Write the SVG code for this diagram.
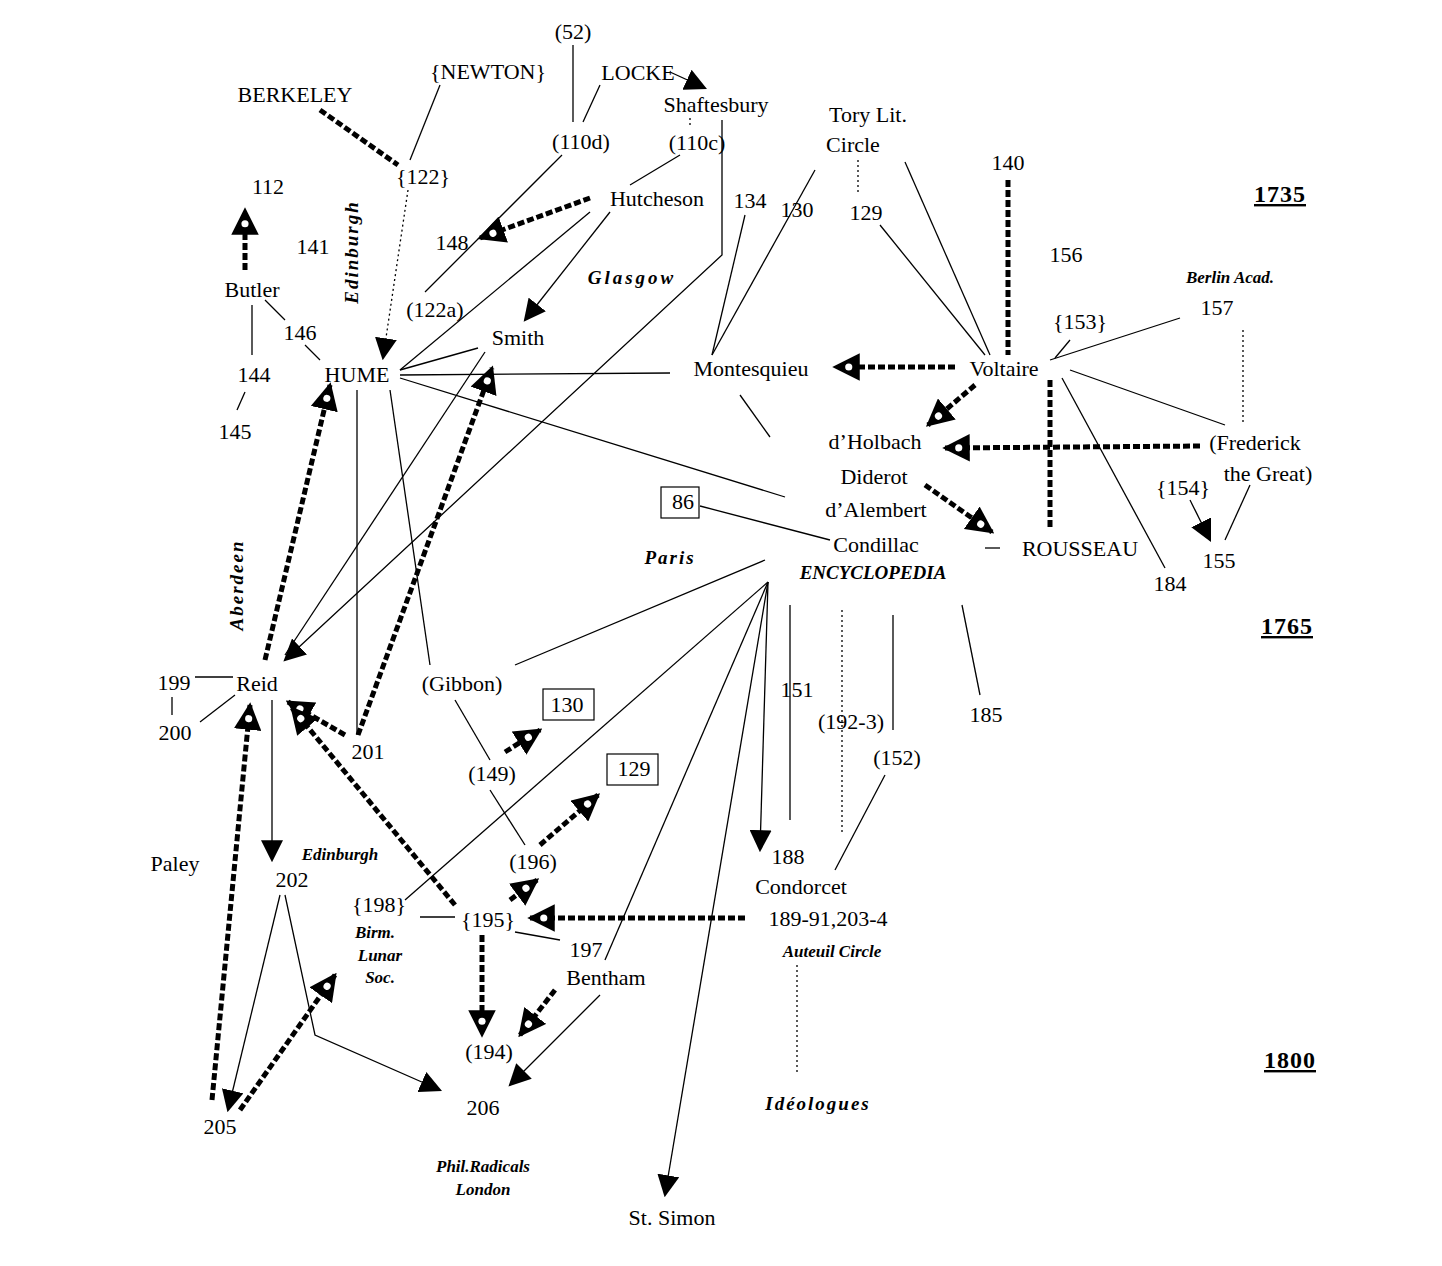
<svg xmlns="http://www.w3.org/2000/svg" width="1442" height="1266" viewBox="0 0 1442 1266">
<defs>
<marker id="a" viewBox="0 0 10 10" refX="9" refY="5" markerWidth="12" markerHeight="12" markerUnits="userSpaceOnUse" orient="auto"><path d="M0,0L10,5L0,10z" fill="#000"/></marker>
<marker id="a2" viewBox="0 0 10 10" refX="9" refY="5" markerWidth="22" markerHeight="22" markerUnits="userSpaceOnUse" orient="auto"><path d="M0,0L10,5L0,10z" fill="#000"/></marker>
<marker id="h" viewBox="0 0 10 10" refX="9" refY="5" markerWidth="5.5" markerHeight="5.5" orient="auto"><path d="M0,0L10,5L0,10z" fill="#000"/><circle cx="4" cy="5" r="1.3" fill="#fff"/></marker>
</defs>
<style>
text{font-family:"Liberation Serif",serif;font-size:22px;fill:#000;text-anchor:middle}
.bi{font-weight:bold;font-style:italic;font-size:19px}
.sm{font-size:17px}
.yr{font-weight:bold;font-size:24px;text-decoration:underline;letter-spacing:1px}
.t{stroke:#000;stroke-width:1.3;fill:none}
.d{stroke:#000;stroke-width:1.3;fill:none;stroke-dasharray:2 3}
.k{stroke:#000;stroke-width:5;fill:none;stroke-dasharray:7 3;marker-end:url(#h)}
.kn{stroke:#000;stroke-width:5;fill:none;stroke-dasharray:7 3}
</style>
<rect width="1442" height="1266" fill="#fff"/>
<g id="connectors">
<line class="t" x1="573" y1="45" x2="573" y2="122"/>
<line class="t" x1="600" y1="85" x2="583" y2="122"/>
<line class="t" x1="670" y1="72" x2="705" y2="88" marker-end="url(#a2)"/>
<line class="d" x1="690" y1="118" x2="690" y2="128"/>
<line class="t" x1="440" y1="85" x2="410" y2="160"/>
<line class="d" x1="408" y1="190" x2="383" y2="358" marker-end="url(#a2)"/>
<line class="kn" x1="320" y1="110" x2="398" y2="165"/>
<line class="t" x1="562" y1="155" x2="425" y2="292"/>
<line class="t" x1="680" y1="155" x2="630" y2="185"/>
<line class="t" x1="610" y1="212" x2="525" y2="320" marker-end="url(#a2)"/>
<line class="t" x1="590" y1="212" x2="400" y2="370"/>
<polyline class="t" points="722,120 722,255 285,660" marker-end="url(#a2)"/>
<line class="t" x1="485" y1="352" x2="285" y2="655"/>
<line class="k" x1="590" y1="198" x2="480" y2="238"/>
<line class="t" x1="745" y1="215" x2="712" y2="355"/>
<line class="t" x1="815" y1="170" x2="712" y2="355"/>
<line class="d" x1="858" y1="160" x2="858" y2="195"/>
<line class="t" x1="880" y1="225" x2="985" y2="355"/>
<line class="t" x1="905" y1="162" x2="990" y2="355"/>
<line class="t" x1="400" y1="375" x2="670" y2="373"/>
<line class="t" x1="400" y1="370" x2="478" y2="348"/>
<line class="t" x1="400" y1="378" x2="785" y2="497"/>
<line class="t" x1="357" y1="390" x2="357" y2="735"/>
<line class="t" x1="390" y1="390" x2="430" y2="665"/>
<line class="t" x1="740" y1="395" x2="770" y2="437"/>
<line class="k" x1="245" y1="270" x2="245" y2="210"/>
<line class="t" x1="265" y1="300" x2="285" y2="320"/>
<line class="t" x1="305" y1="345" x2="320" y2="360"/>
<line class="t" x1="252" y1="305" x2="252" y2="355"/>
<line class="t" x1="245" y1="392" x2="237" y2="410"/>
<line class="t" x1="1055" y1="358" x2="1070" y2="340"/>
<line class="t" x1="1050" y1="360" x2="1180" y2="318"/>
<line class="t" x1="1070" y1="370" x2="1225" y2="425"/>
<line class="t" x1="1062" y1="378" x2="1165" y2="568"/>
<line class="t" x1="1190" y1="500" x2="1210" y2="540" marker-end="url(#a2)"/>
<line class="t" x1="1250" y1="485" x2="1225" y2="540"/>
<line class="d" x1="1243" y1="330" x2="1243" y2="425"/>
<line class="kn" x1="1008" y1="180" x2="1008" y2="355"/>
<line class="k" x1="955" y1="367" x2="835" y2="367"/>
<line class="k" x1="975" y1="385" x2="928" y2="425"/>
<line class="k" x1="1200" y1="446" x2="945" y2="448"/>
<line class="kn" x1="1050" y1="380" x2="1050" y2="530"/>
<line class="k" x1="925" y1="485" x2="992" y2="532"/>
<line class="t" x1="985" y1="548" x2="1000" y2="548"/>
<line class="t" x1="700" y1="506" x2="830" y2="540"/>
<line class="t" x1="765" y1="560" x2="515" y2="665"/>
<line class="t" x1="768" y1="582" x2="405" y2="900"/>
<line class="t" x1="768" y1="582" x2="760" y2="850" marker-end="url(#a2)"/>
<line class="t" x1="768" y1="582" x2="665" y2="1195" marker-end="url(#a2)"/>
<line class="t" x1="768" y1="582" x2="605" y2="960"/>
<line class="t" x1="790" y1="605" x2="790" y2="820"/>
<line class="d" x1="842" y1="610" x2="842" y2="835"/>
<line class="t" x1="893" y1="615" x2="893" y2="730"/>
<line class="t" x1="885" y1="775" x2="835" y2="870"/>
<line class="t" x1="962" y1="605" x2="980" y2="695"/>
<line class="t" x1="195" y1="677" x2="233" y2="677"/>
<line class="t" x1="172" y1="697" x2="172" y2="715"/>
<line class="t" x1="200" y1="722" x2="235" y2="695"/>
<line class="t" x1="272" y1="700" x2="272" y2="860" marker-end="url(#a2)"/>
<line class="k" x1="265" y1="660" x2="330" y2="385"/>
<line class="k" x1="212" y1="1100" x2="250" y2="705"/>
<line class="k" x1="358" y1="735" x2="492" y2="368"/>
<line class="k" x1="345" y1="735" x2="288" y2="702"/>
<line class="k" x1="455" y1="905" x2="292" y2="708"/>
<line class="t" x1="455" y1="700" x2="490" y2="760"/>
<line class="t" x1="490" y1="790" x2="525" y2="845"/>
<line class="k" x1="505" y1="752" x2="540" y2="730"/>
<line class="k" x1="540" y1="845" x2="598" y2="795"/>
<line class="k" x1="510" y1="900" x2="537" y2="880"/>
<line class="k" x1="745" y1="918" x2="530" y2="918"/>
<line class="t" x1="515" y1="932" x2="560" y2="940"/>
<line class="t" x1="420" y1="917" x2="455" y2="917"/>
<line class="k" x1="482" y1="935" x2="482" y2="1035"/>
<line class="k" x1="555" y1="990" x2="520" y2="1035"/>
<line class="t" x1="600" y1="995" x2="510" y2="1085" marker-end="url(#a2)"/>
<line class="t" x1="280" y1="895" x2="228" y2="1110" marker-end="url(#a2)"/>
<polyline class="t" points="285,895 315,1035 440,1090" marker-end="url(#a2)"/>
<line class="k" x1="240" y1="1110" x2="335" y2="975"/>
<line class="d" x1="797" y1="965" x2="797" y2="1075"/>
</g>
<g id="labels">
<text x="573" y="39">(52)</text>
<text x="488" y="79">{NEWTON}</text>
<text x="638" y="80">LOCKE</text>
<text x="295" y="102">BERKELEY</text>
<text x="716" y="112">Shaftesbury</text>
<text x="868" y="122">Tory Lit.</text>
<text x="853" y="152">Circle</text>
<text x="581" y="149">(110d)</text>
<text x="697" y="150">(110c)</text>
<text x="423" y="184">{122}</text>
<text x="1008" y="170">140</text>
<text class="yr" x="1280" y="202">1735</text>
<text x="268" y="194">112</text>
<text class="bi" transform="translate(358,252) rotate(-90)" letter-spacing="2">Edinburgh</text>
<text x="657" y="206">Hutcheson</text>
<text x="750" y="208">134</text>
<text x="797" y="217">130</text>
<text x="866" y="220">129</text>
<text x="452" y="250">148</text>
<text x="313" y="254">141</text>
<text x="1066" y="262">156</text>
<text class="bi" x="632" y="284" letter-spacing="3">Glasgow</text>
<text class="bi sm" x="1230" y="283">Berlin Acad.</text>
<text x="252" y="297">Butler</text>
<text x="435" y="317">(122a)</text>
<text x="300" y="340">146</text>
<text x="518" y="345">Smith</text>
<text x="1080" y="329">{153}</text>
<text x="1217" y="315">157</text>
<text x="254" y="382">144</text>
<text x="357" y="382">HUME</text>
<text x="751" y="376">Montesquieu</text>
<text x="1004" y="376">Voltaire</text>
<text x="235" y="439">145</text>
<text x="875" y="449">d’Holbach</text>
<text x="1255" y="450">(Frederick</text>
<text x="874" y="484">Diderot</text>
<text x="1268" y="481">the Great)</text>
<text x="1183" y="495">{154}</text>
<rect x="661" y="487" width="38" height="31" fill="none" stroke="#000" stroke-width="1.2"/>
<text x="683" y="509">86</text>
<text x="876" y="517">d’Alembert</text>
<text x="876" y="552">Condillac</text>
<text x="1080" y="556">ROUSSEAU</text>
<text class="bi" transform="translate(243,585) rotate(-90)" letter-spacing="2">Aberdeen</text>
<text class="bi" x="670" y="564" letter-spacing="2">Paris</text>
<text class="bi" x="873" y="579">ENCYCLOPEDIA</text>
<text x="1170" y="591">184</text>
<text x="1219" y="568">155</text>
<text class="yr" x="1287" y="634">1765</text>
<text x="174" y="690">199</text>
<text x="257" y="691">Reid</text>
<text x="462" y="691">(Gibbon)</text>
<text x="797" y="697">151</text>
<rect x="543" y="689" width="51" height="31" fill="none" stroke="#000" stroke-width="1.2"/>
<text x="567" y="712">130</text>
<text x="175" y="740">200</text>
<text x="368" y="759">201</text>
<text x="851" y="729">(192-3)</text>
<text x="986" y="722">185</text>
<text x="492" y="781">(149)</text>
<text x="897" y="765">(152)</text>
<rect x="607" y="754" width="51" height="31" fill="none" stroke="#000" stroke-width="1.2"/>
<text x="634" y="776">129</text>
<text x="175" y="871">Paley</text>
<text class="bi sm" x="340" y="860">Edinburgh</text>
<text x="533" y="869">(196)</text>
<text x="788" y="864">188</text>
<text x="292" y="887">202</text>
<text x="801" y="894">Condorcet</text>
<text x="379" y="912">{198}</text>
<text x="488" y="927">{195}</text>
<text x="828" y="926">189-91,203-4</text>
<text class="bi sm" x="375" y="938">Birm.</text>
<text class="bi sm" x="380" y="961">Lunar</text>
<text class="bi sm" x="380" y="983">Soc.</text>
<text x="586" y="957">197</text>
<text class="bi sm" x="832" y="957">Auteuil Circle</text>
<text x="606" y="985">Bentham</text>
<text x="489" y="1059">(194)</text>
<text class="yr" x="1290" y="1068">1800</text>
<text x="483" y="1115">206</text>
<text class="bi" x="818" y="1110" letter-spacing="2">Idéologues</text>
<text x="220" y="1134">205</text>
<text class="bi sm" x="483" y="1172">Phil.Radicals</text>
<text class="bi sm" x="483" y="1195">London</text>
<text x="672" y="1225">St. Simon</text>
</g>
</svg>
